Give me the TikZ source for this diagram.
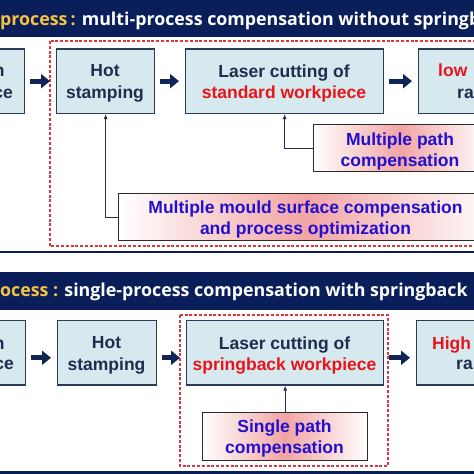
\documentclass[tikz,border=0pt]{standalone}
\usepackage{fontspec}
\setmainfont{Liberation Sans}
\newfontfamily\hdrfont{Open Sans}
\usetikzlibrary{arrows.meta}
\definecolor{navy}{HTML}{0A1E5A}
\definecolor{gold}{HTML}{F5C343}
\definecolor{boxfill}{HTML}{D5E9EE}
\definecolor{boxdraw}{HTML}{2E3B55}
\definecolor{txtnavy}{HTML}{1F2D4F}
\definecolor{redtxt}{HTML}{E8151B}
\definecolor{bluetxt}{HTML}{2211CC}
\definecolor{pinkmid}{HTML}{F2A4A4}
\definecolor{pinkdraw}{HTML}{2A2A2A}
\definecolor{dashred}{HTML}{D9363E}
\definecolor{arrc}{HTML}{0F2556}
\definecolor{connc}{HTML}{1F2D4F}
\begin{document}
\begin{tikzpicture}[x=1pt,y=-1pt,
  box/.style={draw=boxdraw, line width=1.3pt, fill=boxfill, rectangle, inner sep=0pt, anchor=north west},
  pinkbox/.style={draw=pinkdraw, line width=1.3pt, left color=white, right color=white, middle color=pinkmid, rectangle, inner sep=0pt, anchor=north west},
  btxt/.style={font=\fontsize{17.5}{21.6}\selectfont\bfseries, text=txtnavy, align=center, inner sep=0pt, anchor=north},
  ptxt/.style={btxt, text=bluetxt},
  etxt/.style={font=\fontsize{17.5}{21.6}\selectfont\bfseries, text=txtnavy, inner sep=0pt},
  hdr/.style={font=\hdrfont\fontsize{17.8}{21}\selectfont\bfseries, text=white, inner sep=0pt, anchor=base west},
  bigarrow/.style={draw=arrc, line width=5pt, -{Triangle[length=9pt,width=14pt]}, shorten <=5pt, shorten >=6pt},
  conn/.style={draw=connc, line width=1.2pt, -{Latex[length=5pt,width=4pt]}},
  dashbox/.style={draw=dashred, line width=1.2pt, dash pattern=on 3pt off 1.8pt}]
\useasboundingbox (0,0) rectangle (474,474);
\clip (0,0) rectangle (474,474);
% header bands
\fill[navy] (0,0) rectangle (474,37.3);
\fill[navy] (0,272) rectangle (474,309.5);
\fill[navy] (0,471) rectangle (474,478);
\draw[navy, line width=2pt] (0,251.5) -- (474,251.5);
\node[hdr] (h1) at (0,25) {\textcolor{gold}{process\,:} multi-process compensation without springb};
\node[hdr] (h2) at (0,296.5) {\textcolor{gold}{ocess :} single-process compensation with springback};
% dashed frames
\draw[dashbox] (50,41) rectangle (490,246);
\draw[dashbox] (180,315) rectangle (388,466);
% row 1 boxes
\node[box, minimum width=100pt, minimum height=64.4pt] (b1) at (-76,48.3) {};
\node[box, minimum width=98pt, minimum height=64.4pt] (hs1) at (56,48.3) {};
\node[box, minimum width=198pt, minimum height=64.4pt] (lc1) at (185,48.3) {};
\node[box, minimum width=100pt, minimum height=64.4pt] (lo1) at (418,48.3) {};
\node[pinkbox, minimum width=174pt, minimum height=47pt] (mp1) at (313,124) {};
\node[pinkbox, minimum width=376pt, minimum height=47pt] (mm1) at (118,193) {};
% row 2 boxes
\node[box, minimum width=100pt, minimum height=64.3pt] (b2) at (-75,320) {};
\node[box, minimum width=99pt, minimum height=64.3pt] (hs2) at (57,320) {};
\node[box, minimum width=197pt, minimum height=64.3pt] (lc2) at (186,320) {};
\node[box, minimum width=100pt, minimum height=64.3pt] (hi2) at (416,320) {};
\node[pinkbox, minimum width=165pt, minimum height=48pt] (sp2) at (202,412) {};
% texts row 1
\node[etxt, anchor=base east] (b1ta) at (4.7,76.7) {n};
\node[etxt, anchor=base east] (b1tb) at (13,98.3) {ce};
\node[btxt] (hs1t) at (105,64.5) {Hot\\stamping};
\node[btxt] (lc1t) at (284,64.5) {Laser cutting of\\\textcolor{redtxt}{standard workpiece}};
\node[etxt, anchor=base west, text=redtxt] (lo1ta) at (438,76.7) {low};
\node[etxt, anchor=base west] (lo1tb) at (457,98.3) {ra};
\node[ptxt] (mp1t) at (400,132.5) {Multiple path\\compensation};
\node[ptxt] (mm1t) at (305.5,200.5) {Multiple mould surface compensation\\and process optimization};
% texts row 2
\node[etxt, anchor=base east] (b2ta) at (4.7,349) {n};
\node[etxt, anchor=base east] (b2tb) at (14,369) {ce};
\node[btxt] (hs2t) at (106.5,336.5) {Hot\\stamping};
\node[btxt] (lc2t) at (284.5,336.5) {Laser cutting of\\\textcolor{redtxt}{springback workpiece}};
\node[etxt, anchor=base west, text=redtxt] (hi2ta) at (432,349) {High};
\node[etxt, anchor=base west] (hi2tb) at (456,369) {ra};
\node[ptxt] (sp2t) at (284.5,419.5) {Single path\\compensation};
% arrows row 1
\draw[bigarrow] (b1.east) -- (hs1.west);
\draw[bigarrow] (hs1.east) -- (lc1.west);
\draw[bigarrow] (lc1.east) -- (lo1.west);
\draw[conn] (mm1.west) -| (hs1.south);
\draw[conn] (mp1.west) -| (lc1.south);
% arrows row 2
\draw[bigarrow] ([yshift=-5pt]b2.east) -- ([yshift=-5pt]hs2.west);
\draw[bigarrow] ([yshift=-5pt]hs2.east) -- ([yshift=-5pt]lc2.west);
\draw[bigarrow] ([yshift=-5pt]lc2.east) -- ([yshift=-5pt]hi2.west);
\draw[conn] (sp2.north) -- (lc2.south);
\end{tikzpicture}
\end{document}
